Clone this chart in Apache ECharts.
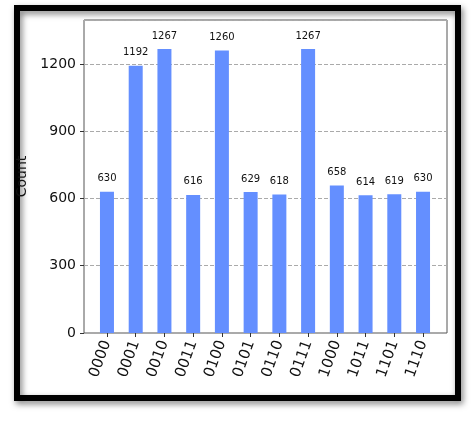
<!DOCTYPE html>
<html><head><meta charset="utf-8">
<script src="https://cdn.jsdelivr.net/npm/echarts@6/dist/echarts.min.js"></script>
<style>html,body{margin:0;padding:0;background:#fff}#c{width:474px;height:441px}</style>
</head><body><div id="c"></div>
<script>
const categories = ['0000','0001','0010','0011','0100','0101','0110','0111','1000','1011','1101','1110'];
const counts = [630,1192,1267,616,1260,629,618,1267,658,614,619,630];
const yTicks = [0,300,600,900,1200];
const chart = echarts.init(document.getElementById('c'));
chart.setOption({
  animation:false,
  graphic:[{type:'rect',shape:{x:17,y:8,width:441,height:390},
    style:{fill:'none',stroke:'#000',lineWidth:6,shadowBlur:6,shadowColor:'rgba(0,0,0,0.5)',shadowOffsetX:2,shadowOffsetY:3}}],
  grid:[
    {left:84,right:27,top:20,bottom:108,show:true,borderColor:'#555',borderWidth:1},
    {left:92.6,right:36.6,top:20,bottom:108}
  ],
  xAxis:[
    {gridIndex:0,type:'value',show:false,min:0,max:1},
    {gridIndex:1,type:'category',data:categories,boundaryGap:true,
     axisLine:{show:false},axisTick:{show:true,alignWithLabel:true,length:4,lineStyle:{color:'#333'}},
     axisLabel:{rotate:70,fontSize:15,color:'#111',fontFamily:'DejaVu Sans',margin:8,interval:0}}
  ],
  yAxis:[
    {gridIndex:0,type:'value',min:0,max:1396,interval:300,
     name:'Count',nameLocation:'middle',nameGap:50,nameTextStyle:{fontSize:14,color:'#111',fontFamily:'DejaVu Sans'},
     axisLine:{show:false},axisTick:{show:true,length:4,lineStyle:{color:'#333'}},
     axisLabel:{fontSize:14,color:'#111',fontFamily:'DejaVu Sans',showMaxLabel:false,
       formatter:v=>yTicks.includes(v)?String(v):''},
     splitLine:{show:true,lineStyle:{type:'dashed',color:'#aaa'}}},
    {gridIndex:1,type:'value',min:0,max:1396,show:false,splitLine:{show:false}}
  ],
  series:[{type:'bar',xAxisIndex:1,yAxisIndex:1,data:counts,barWidth:14,
    itemStyle:{color:'#648fff'},
    label:{show:true,position:'top',distance:8,fontSize:10,color:'#111',fontFamily:'DejaVu Sans'}}]
});
</script></body></html>
